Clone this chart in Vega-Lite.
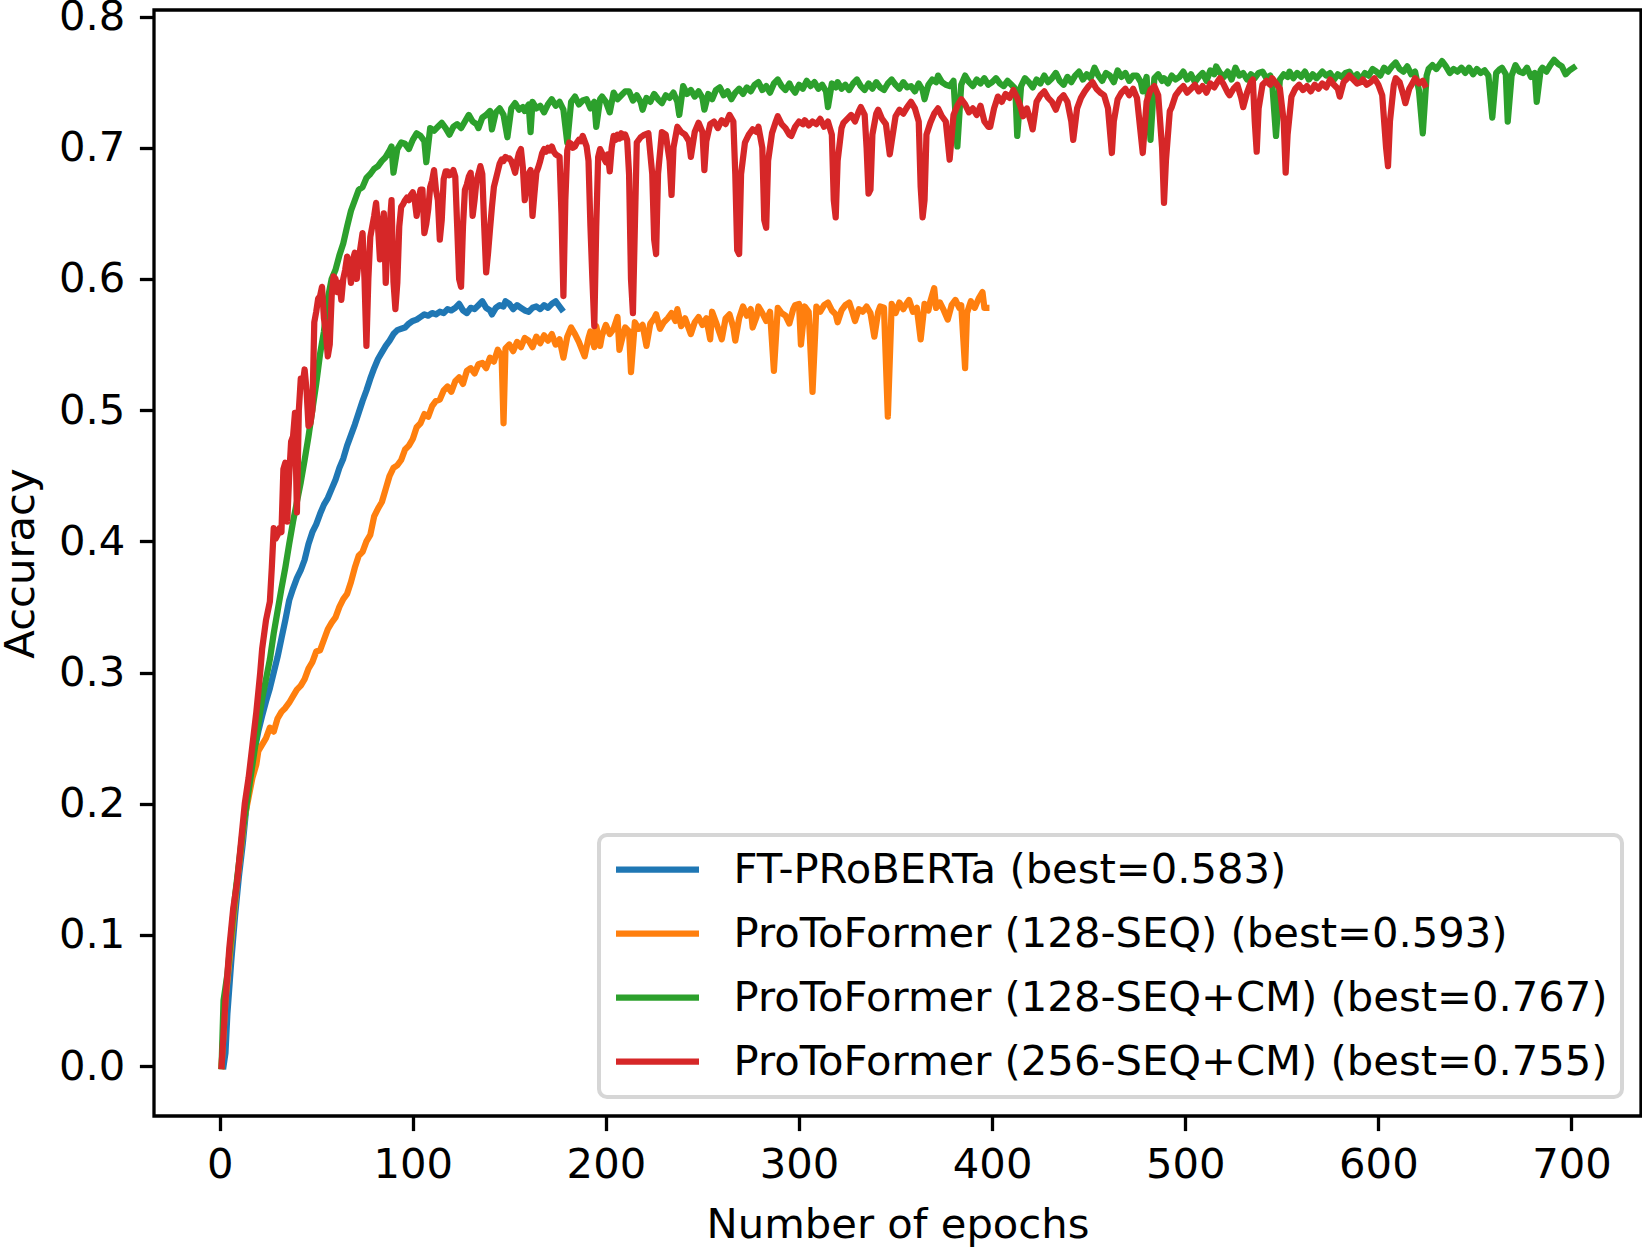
{
  "$schema": "https://vega.github.io/schema/vega-lite/v6.json",
  "width": 1487,
  "height": 1106,
  "autosize": {"type": "none"},
  "padding": {"left": 154, "top": 10, "right": 1, "bottom": 132},
  "background": "white",
  "config": {
    "font": "DejaVu Sans",
    "view": {"stroke": "black", "strokeWidth": 3.3}
  },
  "data": {
    "values": [
      {"s":"b","e":2,"a":0.0},{"s":"b","e":3,"a":0.01},{"s":"b","e":4,"a":0.04},{"s":"b","e":6,"a":0.08},{"s":"b","e":8,"a":0.115},{"s":"b","e":10,"a":0.145},{"s":"b","e":12,"a":0.17},{"s":"b","e":14,"a":0.2},{"s":"b","e":16,"a":0.22},{"s":"b","e":18,"a":0.24},{"s":"b","e":20,"a":0.255},{"s":"b","e":22,"a":0.267},{"s":"b","e":24,"a":0.278},{"s":"b","e":26,"a":0.288},{"s":"b","e":28,"a":0.3},{"s":"b","e":30,"a":0.312},{"s":"b","e":32,"a":0.326},{"s":"b","e":34,"a":0.34},{"s":"b","e":36,"a":0.355},{"s":"b","e":38,"a":0.364},{"s":"b","e":40,"a":0.372},{"s":"b","e":42,"a":0.378},{"s":"b","e":44,"a":0.386},{"s":"b","e":46,"a":0.398},{"s":"b","e":48,"a":0.407},{"s":"b","e":50,"a":0.413},{"s":"b","e":52,"a":0.421},{"s":"b","e":54,"a":0.428},{"s":"b","e":56,"a":0.433},{"s":"b","e":58,"a":0.44},{"s":"b","e":60,"a":0.447},{"s":"b","e":62,"a":0.456},{"s":"b","e":64,"a":0.463},{"s":"b","e":66,"a":0.473},{"s":"b","e":68,"a":0.481},{"s":"b","e":70,"a":0.489},{"s":"b","e":72,"a":0.498},{"s":"b","e":74,"a":0.507},{"s":"b","e":76,"a":0.515},{"s":"b","e":78,"a":0.524},{"s":"b","e":80,"a":0.532},{"s":"b","e":82,"a":0.539},{"s":"b","e":84,"a":0.544},{"s":"b","e":86,"a":0.549},{"s":"b","e":88,"a":0.553},{"s":"b","e":90,"a":0.558},{"s":"b","e":92,"a":0.561},{"s":"b","e":94,"a":0.562},{"s":"b","e":96,"a":0.563},{"s":"b","e":98,"a":0.566},{"s":"b","e":100,"a":0.568},{"s":"b","e":102,"a":0.569},{"s":"b","e":104,"a":0.571},{"s":"b","e":106,"a":0.573},{"s":"b","e":108,"a":0.572},{"s":"b","e":110,"a":0.574},{"s":"b","e":112,"a":0.573},{"s":"b","e":114,"a":0.575},{"s":"b","e":116,"a":0.574},{"s":"b","e":118,"a":0.577},{"s":"b","e":120,"a":0.576},{"s":"b","e":122,"a":0.578},{"s":"b","e":124,"a":0.581},{"s":"b","e":126,"a":0.576},{"s":"b","e":128,"a":0.574},{"s":"b","e":130,"a":0.578},{"s":"b","e":132,"a":0.577},{"s":"b","e":134,"a":0.58},{"s":"b","e":136,"a":0.583},{"s":"b","e":138,"a":0.578},{"s":"b","e":140,"a":0.576},{"s":"b","e":141,"a":0.573},{"s":"b","e":143,"a":0.578},{"s":"b","e":145,"a":0.58},{"s":"b","e":147,"a":0.579},{"s":"b","e":148,"a":0.583},{"s":"b","e":150,"a":0.581},{"s":"b","e":152,"a":0.577},{"s":"b","e":154,"a":0.58},{"s":"b","e":156,"a":0.578},{"s":"b","e":158,"a":0.576},{"s":"b","e":160,"a":0.575},{"s":"b","e":162,"a":0.578},{"s":"b","e":164,"a":0.579},{"s":"b","e":166,"a":0.577},{"s":"b","e":168,"a":0.58},{"s":"b","e":170,"a":0.578},{"s":"b","e":172,"a":0.581},{"s":"b","e":174,"a":0.583},{"s":"b","e":176,"a":0.579},{"s":"b","e":177,"a":0.577},
      {"s":"o","e":1,"a":0.0},{"s":"o","e":3,"a":0.05},{"s":"o","e":5,"a":0.08},{"s":"o","e":7,"a":0.11},{"s":"o","e":9,"a":0.14},{"s":"o","e":11,"a":0.165},{"s":"o","e":13,"a":0.19},{"s":"o","e":15,"a":0.205},{"s":"o","e":17,"a":0.22},{"s":"o","e":19,"a":0.23},{"s":"o","e":20,"a":0.24},{"s":"o","e":22,"a":0.245},{"s":"o","e":24,"a":0.25},{"s":"o","e":26,"a":0.258},{"s":"o","e":28,"a":0.255},{"s":"o","e":30,"a":0.265},{"s":"o","e":32,"a":0.27},{"s":"o","e":34,"a":0.273},{"s":"o","e":36,"a":0.277},{"s":"o","e":38,"a":0.282},{"s":"o","e":40,"a":0.287},{"s":"o","e":42,"a":0.29},{"s":"o","e":44,"a":0.295},{"s":"o","e":46,"a":0.303},{"s":"o","e":48,"a":0.308},{"s":"o","e":50,"a":0.316},{"s":"o","e":52,"a":0.317},{"s":"o","e":54,"a":0.325},{"s":"o","e":56,"a":0.333},{"s":"o","e":58,"a":0.338},{"s":"o","e":60,"a":0.342},{"s":"o","e":62,"a":0.35},{"s":"o","e":64,"a":0.356},{"s":"o","e":66,"a":0.36},{"s":"o","e":68,"a":0.369},{"s":"o","e":70,"a":0.38},{"s":"o","e":72,"a":0.389},{"s":"o","e":74,"a":0.392},{"s":"o","e":76,"a":0.4},{"s":"o","e":78,"a":0.405},{"s":"o","e":80,"a":0.419},{"s":"o","e":82,"a":0.425},{"s":"o","e":84,"a":0.43},{"s":"o","e":86,"a":0.44},{"s":"o","e":88,"a":0.45},{"s":"o","e":90,"a":0.456},{"s":"o","e":92,"a":0.458},{"s":"o","e":94,"a":0.462},{"s":"o","e":96,"a":0.47},{"s":"o","e":98,"a":0.473},{"s":"o","e":100,"a":0.478},{"s":"o","e":102,"a":0.487},{"s":"o","e":104,"a":0.49},{"s":"o","e":106,"a":0.497},{"s":"o","e":108,"a":0.495},{"s":"o","e":110,"a":0.503},{"s":"o","e":112,"a":0.507},{"s":"o","e":114,"a":0.508},{"s":"o","e":116,"a":0.515},{"s":"o","e":118,"a":0.518},{"s":"o","e":120,"a":0.514},{"s":"o","e":122,"a":0.522},{"s":"o","e":124,"a":0.525},{"s":"o","e":126,"a":0.52},{"s":"o","e":128,"a":0.53},{"s":"o","e":130,"a":0.532},{"s":"o","e":132,"a":0.528},{"s":"o","e":134,"a":0.535},{"s":"o","e":136,"a":0.536},{"s":"o","e":138,"a":0.532},{"s":"o","e":140,"a":0.54},{"s":"o","e":142,"a":0.537},{"s":"o","e":144,"a":0.546},{"s":"o","e":146,"a":0.541},{"s":"o","e":147,"a":0.49},{"s":"o","e":148,"a":0.547},{"s":"o","e":150,"a":0.55},{"s":"o","e":152,"a":0.545},{"s":"o","e":154,"a":0.552},{"s":"o","e":156,"a":0.548},{"s":"o","e":158,"a":0.555},{"s":"o","e":160,"a":0.553},{"s":"o","e":162,"a":0.548},{"s":"o","e":164,"a":0.556},{"s":"o","e":166,"a":0.551},{"s":"o","e":168,"a":0.557},{"s":"o","e":170,"a":0.553},{"s":"o","e":172,"a":0.558},{"s":"o","e":174,"a":0.55},{"s":"o","e":176,"a":0.554},{"s":"o","e":178,"a":0.54},{"s":"o","e":180,"a":0.556},{"s":"o","e":182,"a":0.563},{"s":"o","e":184,"a":0.558},{"s":"o","e":186,"a":0.552},{"s":"o","e":189,"a":0.541},{"s":"o","e":191,"a":0.555},{"s":"o","e":192,"a":0.56},{"s":"o","e":194,"a":0.548},{"s":"o","e":195,"a":0.564},{"s":"o","e":197,"a":0.549},{"s":"o","e":198,"a":0.557},{"s":"o","e":200,"a":0.565},{"s":"o","e":202,"a":0.558},{"s":"o","e":204,"a":0.562},{"s":"o","e":206,"a":0.571},{"s":"o","e":207,"a":0.546},{"s":"o","e":209,"a":0.558},{"s":"o","e":210,"a":0.563},{"s":"o","e":212,"a":0.56},{"s":"o","e":213,"a":0.529},{"s":"o","e":215,"a":0.567},{"s":"o","e":217,"a":0.562},{"s":"o","e":219,"a":0.565},{"s":"o","e":221,"a":0.549},{"s":"o","e":223,"a":0.566},{"s":"o","e":225,"a":0.57},{"s":"o","e":226,"a":0.573},{"s":"o","e":228,"a":0.562},{"s":"o","e":230,"a":0.567},{"s":"o","e":232,"a":0.57},{"s":"o","e":234,"a":0.574},{"s":"o","e":236,"a":0.568},{"s":"o","e":237,"a":0.577},{"s":"o","e":239,"a":0.564},{"s":"o","e":241,"a":0.57},{"s":"o","e":244,"a":0.558},{"s":"o","e":246,"a":0.567},{"s":"o","e":248,"a":0.571},{"s":"o","e":250,"a":0.565},{"s":"o","e":252,"a":0.57},{"s":"o","e":254,"a":0.554},{"s":"o","e":255,"a":0.575},{"s":"o","e":257,"a":0.567},{"s":"o","e":260,"a":0.554},{"s":"o","e":262,"a":0.57},{"s":"o","e":264,"a":0.573},{"s":"o","e":266,"a":0.563},{"s":"o","e":267,"a":0.553},{"s":"o","e":269,"a":0.57},{"s":"o","e":271,"a":0.579},{"s":"o","e":273,"a":0.572},{"s":"o","e":275,"a":0.577},{"s":"o","e":276,"a":0.563},{"s":"o","e":278,"a":0.571},{"s":"o","e":279,"a":0.579},{"s":"o","e":281,"a":0.574},{"s":"o","e":283,"a":0.568},{"s":"o","e":285,"a":0.575},{"s":"o","e":287,"a":0.53},{"s":"o","e":289,"a":0.578},{"s":"o","e":291,"a":0.574},{"s":"o","e":293,"a":0.572},{"s":"o","e":295,"a":0.566},{"s":"o","e":297,"a":0.577},{"s":"o","e":298,"a":0.58},{"s":"o","e":300,"a":0.581},{"s":"o","e":301,"a":0.55},{"s":"o","e":303,"a":0.579},{"s":"o","e":305,"a":0.575},{"s":"o","e":307,"a":0.514},{"s":"o","e":309,"a":0.579},{"s":"o","e":311,"a":0.575},{"s":"o","e":313,"a":0.58},{"s":"o","e":315,"a":0.582},{"s":"o","e":317,"a":0.576},{"s":"o","e":319,"a":0.573},{"s":"o","e":320,"a":0.567},{"s":"o","e":322,"a":0.576},{"s":"o","e":324,"a":0.58},{"s":"o","e":326,"a":0.582},{"s":"o","e":328,"a":0.573},{"s":"o","e":329,"a":0.568},{"s":"o","e":331,"a":0.577},{"s":"o","e":333,"a":0.575},{"s":"o","e":335,"a":0.579},{"s":"o","e":337,"a":0.574},{"s":"o","e":339,"a":0.556},{"s":"o","e":341,"a":0.575},{"s":"o","e":342,"a":0.579},{"s":"o","e":344,"a":0.578},{"s":"o","e":346,"a":0.495},{"s":"o","e":348,"a":0.581},{"s":"o","e":350,"a":0.574},{"s":"o","e":352,"a":0.582},{"s":"o","e":354,"a":0.577},{"s":"o","e":356,"a":0.582},{"s":"o","e":357,"a":0.584},{"s":"o","e":359,"a":0.575},{"s":"o","e":361,"a":0.578},{"s":"o","e":363,"a":0.554},{"s":"o","e":365,"a":0.581},{"s":"o","e":367,"a":0.576},{"s":"o","e":368,"a":0.583},{"s":"o","e":370,"a":0.593},{"s":"o","e":371,"a":0.578},{"s":"o","e":373,"a":0.582},{"s":"o","e":375,"a":0.576},{"s":"o","e":377,"a":0.569},{"s":"o","e":379,"a":0.58},{"s":"o","e":381,"a":0.584},{"s":"o","e":383,"a":0.578},{"s":"o","e":384,"a":0.58},{"s":"o","e":386,"a":0.532},{"s":"o","e":387,"a":0.574},{"s":"o","e":389,"a":0.583},{"s":"o","e":391,"a":0.578},{"s":"o","e":393,"a":0.585},{"s":"o","e":395,"a":0.59},{"s":"o","e":396,"a":0.578},{"s":"o","e":397,"a":0.578},
      {"s":"g","e":1,"a":0.0},{"s":"g","e":2,"a":0.05},{"s":"g","e":3,"a":0.06},{"s":"g","e":4,"a":0.07},{"s":"g","e":6,"a":0.1},{"s":"g","e":8,"a":0.13},{"s":"g","e":10,"a":0.155},{"s":"g","e":12,"a":0.18},{"s":"g","e":14,"a":0.2},{"s":"g","e":16,"a":0.22},{"s":"g","e":18,"a":0.24},{"s":"g","e":20,"a":0.26},{"s":"g","e":22,"a":0.28},{"s":"g","e":24,"a":0.295},{"s":"g","e":26,"a":0.31},{"s":"g","e":28,"a":0.33},{"s":"g","e":30,"a":0.347},{"s":"g","e":32,"a":0.364},{"s":"g","e":34,"a":0.38},{"s":"g","e":36,"a":0.398},{"s":"g","e":38,"a":0.415},{"s":"g","e":40,"a":0.43},{"s":"g","e":42,"a":0.445},{"s":"g","e":44,"a":0.462},{"s":"g","e":46,"a":0.48},{"s":"g","e":48,"a":0.5},{"s":"g","e":50,"a":0.52},{"s":"g","e":52,"a":0.543},{"s":"g","e":54,"a":0.56},{"s":"g","e":56,"a":0.585},{"s":"g","e":58,"a":0.6},{"s":"g","e":60,"a":0.607},{"s":"g","e":62,"a":0.618},{"s":"g","e":64,"a":0.627},{"s":"g","e":66,"a":0.64},{"s":"g","e":68,"a":0.652},{"s":"g","e":70,"a":0.66},{"s":"g","e":72,"a":0.668},{"s":"g","e":74,"a":0.67},{"s":"g","e":76,"a":0.677},{"s":"g","e":78,"a":0.68},{"s":"g","e":80,"a":0.684},{"s":"g","e":82,"a":0.686},{"s":"g","e":84,"a":0.69},{"s":"g","e":86,"a":0.693},{"s":"g","e":88,"a":0.698},{"s":"g","e":89,"a":0.701},{"s":"g","e":90,"a":0.681},{"s":"g","e":92,"a":0.699},{"s":"g","e":94,"a":0.704},{"s":"g","e":96,"a":0.703},{"s":"g","e":98,"a":0.699},{"s":"g","e":100,"a":0.706},{"s":"g","e":102,"a":0.711},{"s":"g","e":104,"a":0.709},{"s":"g","e":106,"a":0.705},{"s":"g","e":107,"a":0.689},{"s":"g","e":109,"a":0.715},{"s":"g","e":111,"a":0.713},{"s":"g","e":113,"a":0.716},{"s":"g","e":115,"a":0.719},{"s":"g","e":117,"a":0.715},{"s":"g","e":119,"a":0.71},{"s":"g","e":121,"a":0.716},{"s":"g","e":123,"a":0.718},{"s":"g","e":125,"a":0.715},{"s":"g","e":127,"a":0.72},{"s":"g","e":129,"a":0.725},{"s":"g","e":131,"a":0.72},{"s":"g","e":133,"a":0.718},{"s":"g","e":134,"a":0.715},{"s":"g","e":136,"a":0.723},{"s":"g","e":138,"a":0.725},{"s":"g","e":140,"a":0.728},{"s":"g","e":141,"a":0.714},{"s":"g","e":143,"a":0.727},{"s":"g","e":145,"a":0.73},{"s":"g","e":147,"a":0.725},{"s":"g","e":149,"a":0.708},{"s":"g","e":151,"a":0.73},{"s":"g","e":153,"a":0.734},{"s":"g","e":155,"a":0.729},{"s":"g","e":157,"a":0.731},{"s":"g","e":158,"a":0.728},{"s":"g","e":160,"a":0.733},{"s":"g","e":161,"a":0.712},{"s":"g","e":162,"a":0.735},{"s":"g","e":164,"a":0.73},{"s":"g","e":166,"a":0.732},{"s":"g","e":168,"a":0.727},{"s":"g","e":170,"a":0.733},{"s":"g","e":172,"a":0.737},{"s":"g","e":174,"a":0.732},{"s":"g","e":176,"a":0.735},{"s":"g","e":178,"a":0.729},{"s":"g","e":180,"a":0.704},{"s":"g","e":182,"a":0.735},{"s":"g","e":184,"a":0.739},{"s":"g","e":186,"a":0.733},{"s":"g","e":188,"a":0.736},{"s":"g","e":190,"a":0.737},{"s":"g","e":192,"a":0.73},{"s":"g","e":194,"a":0.735},{"s":"g","e":195,"a":0.716},{"s":"g","e":197,"a":0.737},{"s":"g","e":198,"a":0.739},{"s":"g","e":200,"a":0.735},{"s":"g","e":202,"a":0.727},{"s":"g","e":204,"a":0.742},{"s":"g","e":206,"a":0.737},{"s":"g","e":208,"a":0.74},{"s":"g","e":210,"a":0.743},{"s":"g","e":212,"a":0.743},{"s":"g","e":214,"a":0.736},{"s":"g","e":216,"a":0.74},{"s":"g","e":218,"a":0.735},{"s":"g","e":219,"a":0.729},{"s":"g","e":221,"a":0.738},{"s":"g","e":223,"a":0.735},{"s":"g","e":225,"a":0.741},{"s":"g","e":227,"a":0.737},{"s":"g","e":229,"a":0.734},{"s":"g","e":231,"a":0.74},{"s":"g","e":233,"a":0.738},{"s":"g","e":235,"a":0.742},{"s":"g","e":237,"a":0.735},{"s":"g","e":238,"a":0.725},{"s":"g","e":240,"a":0.747},{"s":"g","e":242,"a":0.741},{"s":"g","e":244,"a":0.744},{"s":"g","e":246,"a":0.739},{"s":"g","e":248,"a":0.743},{"s":"g","e":250,"a":0.738},{"s":"g","e":251,"a":0.729},{"s":"g","e":253,"a":0.741},{"s":"g","e":255,"a":0.737},{"s":"g","e":257,"a":0.744},{"s":"g","e":259,"a":0.746},{"s":"g","e":261,"a":0.74},{"s":"g","e":263,"a":0.743},{"s":"g","e":265,"a":0.737},{"s":"g","e":267,"a":0.742},{"s":"g","e":269,"a":0.745},{"s":"g","e":271,"a":0.741},{"s":"g","e":273,"a":0.746},{"s":"g","e":275,"a":0.743},{"s":"g","e":277,"a":0.748},{"s":"g","e":279,"a":0.75},{"s":"g","e":281,"a":0.744},{"s":"g","e":283,"a":0.747},{"s":"g","e":285,"a":0.742},{"s":"g","e":287,"a":0.749},{"s":"g","e":289,"a":0.752},{"s":"g","e":291,"a":0.747},{"s":"g","e":293,"a":0.744},{"s":"g","e":295,"a":0.749},{"s":"g","e":296,"a":0.746},{"s":"g","e":298,"a":0.742},{"s":"g","e":300,"a":0.748},{"s":"g","e":302,"a":0.745},{"s":"g","e":304,"a":0.751},{"s":"g","e":306,"a":0.747},{"s":"g","e":308,"a":0.75},{"s":"g","e":310,"a":0.745},{"s":"g","e":312,"a":0.748},{"s":"g","e":314,"a":0.743},{"s":"g","e":315,"a":0.731},{"s":"g","e":317,"a":0.749},{"s":"g","e":319,"a":0.746},{"s":"g","e":320,"a":0.75},{"s":"g","e":322,"a":0.745},{"s":"g","e":324,"a":0.748},{"s":"g","e":326,"a":0.744},{"s":"g","e":328,"a":0.749},{"s":"g","e":330,"a":0.752},{"s":"g","e":332,"a":0.747},{"s":"g","e":334,"a":0.744},{"s":"g","e":336,"a":0.749},{"s":"g","e":338,"a":0.745},{"s":"g","e":340,"a":0.75},{"s":"g","e":342,"a":0.746},{"s":"g","e":344,"a":0.744},{"s":"g","e":346,"a":0.749},{"s":"g","e":348,"a":0.752},{"s":"g","e":350,"a":0.748},{"s":"g","e":352,"a":0.745},{"s":"g","e":354,"a":0.75},{"s":"g","e":356,"a":0.746},{"s":"g","e":358,"a":0.747},{"s":"g","e":360,"a":0.743},{"s":"g","e":362,"a":0.749},{"s":"g","e":364,"a":0.744},{"s":"g","e":365,"a":0.737},{"s":"g","e":367,"a":0.748},{"s":"g","e":369,"a":0.752},{"s":"g","e":371,"a":0.75},{"s":"g","e":372,"a":0.755},{"s":"g","e":374,"a":0.75},{"s":"g","e":376,"a":0.748},{"s":"g","e":378,"a":0.747},{"s":"g","e":380,"a":0.751},{"s":"g","e":382,"a":0.701},{"s":"g","e":384,"a":0.748},{"s":"g","e":386,"a":0.755},{"s":"g","e":388,"a":0.75},{"s":"g","e":390,"a":0.747},{"s":"g","e":392,"a":0.752},{"s":"g","e":394,"a":0.749},{"s":"g","e":396,"a":0.753},{"s":"g","e":398,"a":0.748},{"s":"g","e":400,"a":0.75},{"s":"g","e":402,"a":0.753},{"s":"g","e":404,"a":0.749},{"s":"g","e":406,"a":0.747},{"s":"g","e":408,"a":0.751},{"s":"g","e":410,"a":0.748},{"s":"g","e":412,"a":0.745},{"s":"g","e":413,"a":0.709},{"s":"g","e":415,"a":0.747},{"s":"g","e":417,"a":0.753},{"s":"g","e":419,"a":0.75},{"s":"g","e":421,"a":0.746},{"s":"g","e":423,"a":0.752},{"s":"g","e":425,"a":0.749},{"s":"g","e":427,"a":0.755},{"s":"g","e":429,"a":0.75},{"s":"g","e":431,"a":0.753},{"s":"g","e":433,"a":0.757},{"s":"g","e":435,"a":0.751},{"s":"g","e":437,"a":0.748},{"s":"g","e":439,"a":0.754},{"s":"g","e":441,"a":0.75},{"s":"g","e":443,"a":0.755},{"s":"g","e":445,"a":0.758},{"s":"g","e":447,"a":0.752},{"s":"g","e":449,"a":0.756},{"s":"g","e":451,"a":0.753},{"s":"g","e":453,"a":0.761},{"s":"g","e":455,"a":0.755},{"s":"g","e":457,"a":0.751},{"s":"g","e":459,"a":0.757},{"s":"g","e":461,"a":0.755},{"s":"g","e":463,"a":0.75},{"s":"g","e":465,"a":0.759},{"s":"g","e":467,"a":0.754},{"s":"g","e":469,"a":0.757},{"s":"g","e":471,"a":0.751},{"s":"g","e":473,"a":0.755},{"s":"g","e":475,"a":0.755},{"s":"g","e":477,"a":0.75},{"s":"g","e":478,"a":0.743},{"s":"g","e":480,"a":0.754},{"s":"g","e":482,"a":0.706},{"s":"g","e":484,"a":0.753},{"s":"g","e":486,"a":0.756},{"s":"g","e":488,"a":0.751},{"s":"g","e":489,"a":0.753},{"s":"g","e":491,"a":0.749},{"s":"g","e":493,"a":0.755},{"s":"g","e":495,"a":0.752},{"s":"g","e":497,"a":0.754},{"s":"g","e":499,"a":0.758},{"s":"g","e":501,"a":0.752},{"s":"g","e":503,"a":0.756},{"s":"g","e":505,"a":0.75},{"s":"g","e":507,"a":0.754},{"s":"g","e":509,"a":0.757},{"s":"g","e":511,"a":0.751},{"s":"g","e":513,"a":0.759},{"s":"g","e":515,"a":0.756},{"s":"g","e":516,"a":0.762},{"s":"g","e":518,"a":0.757},{"s":"g","e":520,"a":0.754},{"s":"g","e":522,"a":0.758},{"s":"g","e":524,"a":0.752},{"s":"g","e":526,"a":0.761},{"s":"g","e":528,"a":0.755},{"s":"g","e":530,"a":0.757},{"s":"g","e":532,"a":0.752},{"s":"g","e":534,"a":0.756},{"s":"g","e":536,"a":0.753},{"s":"g","e":538,"a":0.757},{"s":"g","e":540,"a":0.758},{"s":"g","e":542,"a":0.753},{"s":"g","e":544,"a":0.755},{"s":"g","e":545,"a":0.75},{"s":"g","e":547,"a":0.709},{"s":"g","e":549,"a":0.752},{"s":"g","e":551,"a":0.756},{"s":"g","e":553,"a":0.754},{"s":"g","e":554,"a":0.758},{"s":"g","e":556,"a":0.753},{"s":"g","e":558,"a":0.757},{"s":"g","e":560,"a":0.754},{"s":"g","e":562,"a":0.758},{"s":"g","e":564,"a":0.752},{"s":"g","e":566,"a":0.756},{"s":"g","e":568,"a":0.753},{"s":"g","e":571,"a":0.758},{"s":"g","e":573,"a":0.755},{"s":"g","e":575,"a":0.757},{"s":"g","e":577,"a":0.752},{"s":"g","e":579,"a":0.756},{"s":"g","e":581,"a":0.754},{"s":"g","e":583,"a":0.757},{"s":"g","e":585,"a":0.758},{"s":"g","e":587,"a":0.753},{"s":"g","e":589,"a":0.756},{"s":"g","e":591,"a":0.752},{"s":"g","e":593,"a":0.757},{"s":"g","e":595,"a":0.755},{"s":"g","e":597,"a":0.76},{"s":"g","e":599,"a":0.758},{"s":"g","e":601,"a":0.755},{"s":"g","e":603,"a":0.761},{"s":"g","e":605,"a":0.758},{"s":"g","e":607,"a":0.762},{"s":"g","e":609,"a":0.765},{"s":"g","e":611,"a":0.76},{"s":"g","e":613,"a":0.758},{"s":"g","e":615,"a":0.762},{"s":"g","e":617,"a":0.756},{"s":"g","e":619,"a":0.758},{"s":"g","e":621,"a":0.744},{"s":"g","e":623,"a":0.711},{"s":"g","e":625,"a":0.755},{"s":"g","e":626,"a":0.76},{"s":"g","e":628,"a":0.763},{"s":"g","e":630,"a":0.76},{"s":"g","e":633,"a":0.766},{"s":"g","e":635,"a":0.762},{"s":"g","e":637,"a":0.757},{"s":"g","e":639,"a":0.76},{"s":"g","e":641,"a":0.758},{"s":"g","e":643,"a":0.761},{"s":"g","e":645,"a":0.757},{"s":"g","e":647,"a":0.761},{"s":"g","e":649,"a":0.756},{"s":"g","e":651,"a":0.76},{"s":"g","e":653,"a":0.757},{"s":"g","e":655,"a":0.759},{"s":"g","e":657,"a":0.755},{"s":"g","e":659,"a":0.723},{"s":"g","e":661,"a":0.757},{"s":"g","e":663,"a":0.76},{"s":"g","e":664,"a":0.761},{"s":"g","e":666,"a":0.756},{"s":"g","e":667,"a":0.72},{"s":"g","e":669,"a":0.755},{"s":"g","e":671,"a":0.763},{"s":"g","e":673,"a":0.758},{"s":"g","e":675,"a":0.757},{"s":"g","e":677,"a":0.761},{"s":"g","e":679,"a":0.754},{"s":"g","e":681,"a":0.757},{"s":"g","e":682,"a":0.735},{"s":"g","e":684,"a":0.759},{"s":"g","e":685,"a":0.761},{"s":"g","e":687,"a":0.758},{"s":"g","e":689,"a":0.763},{"s":"g","e":691,"a":0.767},{"s":"g","e":693,"a":0.764},{"s":"g","e":695,"a":0.762},{"s":"g","e":697,"a":0.756},{"s":"g","e":699,"a":0.759},{"s":"g","e":701,"a":0.761},
      {"s":"r","e":1,"a":0.0},{"s":"r","e":3,"a":0.05},{"s":"r","e":5,"a":0.09},{"s":"r","e":7,"a":0.12},{"s":"r","e":9,"a":0.14},{"s":"r","e":11,"a":0.17},{"s":"r","e":13,"a":0.2},{"s":"r","e":15,"a":0.22},{"s":"r","e":17,"a":0.245},{"s":"r","e":19,"a":0.27},{"s":"r","e":21,"a":0.3},{"s":"r","e":22,"a":0.318},{"s":"r","e":24,"a":0.34},{"s":"r","e":26,"a":0.354},{"s":"r","e":27,"a":0.38},{"s":"r","e":28,"a":0.41},{"s":"r","e":29,"a":0.402},{"s":"r","e":30,"a":0.405},{"s":"r","e":31,"a":0.41},{"s":"r","e":32,"a":0.407},{"s":"r","e":33,"a":0.455},{"s":"r","e":34,"a":0.46},{"s":"r","e":35,"a":0.415},{"s":"r","e":36,"a":0.45},{"s":"r","e":37,"a":0.476},{"s":"r","e":38,"a":0.48},{"s":"r","e":39,"a":0.498},{"s":"r","e":40,"a":0.422},{"s":"r","e":41,"a":0.5},{"s":"r","e":42,"a":0.524},{"s":"r","e":43,"a":0.52},{"s":"r","e":44,"a":0.531},{"s":"r","e":45,"a":0.515},{"s":"r","e":46,"a":0.488},{"s":"r","e":47,"a":0.49},{"s":"r","e":48,"a":0.5},{"s":"r","e":49,"a":0.567},{"s":"r","e":50,"a":0.575},{"s":"r","e":51,"a":0.585},{"s":"r","e":52,"a":0.587},{"s":"r","e":53,"a":0.594},{"s":"r","e":54,"a":0.57},{"s":"r","e":55,"a":0.559},{"s":"r","e":56,"a":0.541},{"s":"r","e":57,"a":0.55},{"s":"r","e":58,"a":0.587},{"s":"r","e":59,"a":0.602},{"s":"r","e":60,"a":0.6},{"s":"r","e":61,"a":0.59},{"s":"r","e":62,"a":0.597},{"s":"r","e":63,"a":0.584},{"s":"r","e":64,"a":0.6},{"s":"r","e":65,"a":0.607},{"s":"r","e":66,"a":0.617},{"s":"r","e":67,"a":0.61},{"s":"r","e":68,"a":0.597},{"s":"r","e":69,"a":0.615},{"s":"r","e":70,"a":0.62},{"s":"r","e":71,"a":0.6},{"s":"r","e":72,"a":0.615},{"s":"r","e":73,"a":0.625},{"s":"r","e":74,"a":0.635},{"s":"r","e":75,"a":0.6},{"s":"r","e":76,"a":0.549},{"s":"r","e":77,"a":0.6},{"s":"r","e":78,"a":0.632},{"s":"r","e":79,"a":0.64},{"s":"r","e":80,"a":0.648},{"s":"r","e":81,"a":0.658},{"s":"r","e":82,"a":0.64},{"s":"r","e":83,"a":0.615},{"s":"r","e":84,"a":0.636},{"s":"r","e":85,"a":0.65},{"s":"r","e":86,"a":0.597},{"s":"r","e":87,"a":0.63},{"s":"r","e":88,"a":0.64},{"s":"r","e":89,"a":0.66},{"s":"r","e":90,"a":0.598},{"s":"r","e":91,"a":0.577},{"s":"r","e":92,"a":0.597},{"s":"r","e":93,"a":0.64},{"s":"r","e":94,"a":0.655},{"s":"r","e":95,"a":0.657},{"s":"r","e":96,"a":0.66},{"s":"r","e":97,"a":0.662},{"s":"r","e":98,"a":0.66},{"s":"r","e":99,"a":0.664},{"s":"r","e":100,"a":0.666},{"s":"r","e":101,"a":0.66},{"s":"r","e":102,"a":0.648},{"s":"r","e":103,"a":0.66},{"s":"r","e":104,"a":0.668},{"s":"r","e":105,"a":0.668},{"s":"r","e":106,"a":0.635},{"s":"r","e":107,"a":0.642},{"s":"r","e":108,"a":0.653},{"s":"r","e":109,"a":0.67},{"s":"r","e":110,"a":0.675},{"s":"r","e":111,"a":0.683},{"s":"r","e":112,"a":0.668},{"s":"r","e":113,"a":0.66},{"s":"r","e":114,"a":0.63},{"s":"r","e":115,"a":0.645},{"s":"r","e":116,"a":0.676},{"s":"r","e":117,"a":0.682},{"s":"r","e":118,"a":0.682},{"s":"r","e":119,"a":0.679},{"s":"r","e":120,"a":0.68},{"s":"r","e":121,"a":0.683},{"s":"r","e":122,"a":0.678},{"s":"r","e":123,"a":0.64},{"s":"r","e":124,"a":0.6},{"s":"r","e":125,"a":0.594},{"s":"r","e":126,"a":0.64},{"s":"r","e":127,"a":0.668},{"s":"r","e":128,"a":0.672},{"s":"r","e":129,"a":0.678},{"s":"r","e":130,"a":0.681},{"s":"r","e":131,"a":0.648},{"s":"r","e":132,"a":0.66},{"s":"r","e":133,"a":0.675},{"s":"r","e":134,"a":0.68},{"s":"r","e":135,"a":0.686},{"s":"r","e":136,"a":0.68},{"s":"r","e":137,"a":0.64},{"s":"r","e":138,"a":0.605},{"s":"r","e":139,"a":0.62},{"s":"r","e":140,"a":0.638},{"s":"r","e":141,"a":0.655},{"s":"r","e":142,"a":0.67},{"s":"r","e":143,"a":0.676},{"s":"r","e":144,"a":0.682},{"s":"r","e":145,"a":0.688},{"s":"r","e":146,"a":0.691},{"s":"r","e":147,"a":0.69},{"s":"r","e":148,"a":0.693},{"s":"r","e":149,"a":0.692},{"s":"r","e":150,"a":0.692},{"s":"r","e":151,"a":0.69},{"s":"r","e":152,"a":0.686},{"s":"r","e":153,"a":0.681},{"s":"r","e":154,"a":0.69},{"s":"r","e":155,"a":0.696},{"s":"r","e":156,"a":0.699},{"s":"r","e":157,"a":0.685},{"s":"r","e":158,"a":0.66},{"s":"r","e":159,"a":0.672},{"s":"r","e":160,"a":0.68},{"s":"r","e":161,"a":0.683},{"s":"r","e":162,"a":0.648},{"s":"r","e":163,"a":0.665},{"s":"r","e":164,"a":0.681},{"s":"r","e":165,"a":0.685},{"s":"r","e":166,"a":0.69},{"s":"r","e":167,"a":0.696},{"s":"r","e":168,"a":0.699},{"s":"r","e":169,"a":0.697},{"s":"r","e":170,"a":0.7},{"s":"r","e":171,"a":0.698},{"s":"r","e":172,"a":0.701},{"s":"r","e":173,"a":0.697},{"s":"r","e":174,"a":0.695},{"s":"r","e":175,"a":0.694},{"s":"r","e":176,"a":0.693},{"s":"r","e":177,"a":0.65},{"s":"r","e":178,"a":0.587},{"s":"r","e":179,"a":0.66},{"s":"r","e":180,"a":0.698},{"s":"r","e":181,"a":0.704},{"s":"r","e":182,"a":0.703},{"s":"r","e":183,"a":0.7},{"s":"r","e":184,"a":0.701},{"s":"r","e":185,"a":0.704},{"s":"r","e":186,"a":0.706},{"s":"r","e":187,"a":0.705},{"s":"r","e":188,"a":0.709},{"s":"r","e":189,"a":0.705},{"s":"r","e":190,"a":0.701},{"s":"r","e":191,"a":0.69},{"s":"r","e":192,"a":0.64},{"s":"r","e":193,"a":0.6},{"s":"r","e":194,"a":0.564},{"s":"r","e":195,"a":0.64},{"s":"r","e":196,"a":0.693},{"s":"r","e":197,"a":0.699},{"s":"r","e":198,"a":0.696},{"s":"r","e":199,"a":0.692},{"s":"r","e":200,"a":0.689},{"s":"r","e":201,"a":0.695},{"s":"r","e":202,"a":0.682},{"s":"r","e":203,"a":0.7},{"s":"r","e":204,"a":0.709},{"s":"r","e":205,"a":0.706},{"s":"r","e":206,"a":0.71},{"s":"r","e":207,"a":0.707},{"s":"r","e":208,"a":0.711},{"s":"r","e":209,"a":0.708},{"s":"r","e":210,"a":0.71},{"s":"r","e":211,"a":0.706},{"s":"r","e":212,"a":0.68},{"s":"r","e":213,"a":0.6},{"s":"r","e":214,"a":0.574},{"s":"r","e":215,"a":0.64},{"s":"r","e":216,"a":0.704},{"s":"r","e":218,"a":0.708},{"s":"r","e":220,"a":0.71},{"s":"r","e":222,"a":0.711},{"s":"r","e":224,"a":0.68},{"s":"r","e":225,"a":0.63},{"s":"r","e":226,"a":0.619},{"s":"r","e":227,"a":0.68},{"s":"r","e":229,"a":0.712},{"s":"r","e":231,"a":0.71},{"s":"r","e":233,"a":0.69},{"s":"r","e":234,"a":0.664},{"s":"r","e":235,"a":0.7},{"s":"r","e":237,"a":0.716},{"s":"r","e":239,"a":0.712},{"s":"r","e":241,"a":0.71},{"s":"r","e":243,"a":0.705},{"s":"r","e":244,"a":0.693},{"s":"r","e":246,"a":0.712},{"s":"r","e":248,"a":0.719},{"s":"r","e":250,"a":0.712},{"s":"r","e":251,"a":0.683},{"s":"r","e":252,"a":0.705},{"s":"r","e":254,"a":0.718},{"s":"r","e":256,"a":0.72},{"s":"r","e":258,"a":0.715},{"s":"r","e":260,"a":0.721},{"s":"r","e":262,"a":0.718},{"s":"r","e":264,"a":0.725},{"s":"r","e":266,"a":0.72},{"s":"r","e":267,"a":0.68},{"s":"r","e":268,"a":0.622},{"s":"r","e":269,"a":0.619},{"s":"r","e":270,"a":0.68},{"s":"r","e":272,"a":0.704},{"s":"r","e":274,"a":0.71},{"s":"r","e":276,"a":0.714},{"s":"r","e":278,"a":0.712},{"s":"r","e":279,"a":0.716},{"s":"r","e":281,"a":0.7},{"s":"r","e":282,"a":0.645},{"s":"r","e":283,"a":0.639},{"s":"r","e":284,"a":0.69},{"s":"r","e":286,"a":0.711},{"s":"r","e":288,"a":0.72},{"s":"r","e":289,"a":0.724},{"s":"r","e":291,"a":0.718},{"s":"r","e":293,"a":0.715},{"s":"r","e":295,"a":0.71},{"s":"r","e":296,"a":0.709},{"s":"r","e":298,"a":0.716},{"s":"r","e":300,"a":0.72},{"s":"r","e":302,"a":0.718},{"s":"r","e":303,"a":0.721},{"s":"r","e":305,"a":0.717},{"s":"r","e":307,"a":0.72},{"s":"r","e":309,"a":0.718},{"s":"r","e":311,"a":0.722},{"s":"r","e":313,"a":0.716},{"s":"r","e":315,"a":0.72},{"s":"r","e":317,"a":0.71},{"s":"r","e":318,"a":0.66},{"s":"r","e":319,"a":0.647},{"s":"r","e":320,"a":0.69},{"s":"r","e":322,"a":0.715},{"s":"r","e":323,"a":0.719},{"s":"r","e":325,"a":0.722},{"s":"r","e":327,"a":0.725},{"s":"r","e":329,"a":0.72},{"s":"r","e":331,"a":0.728},{"s":"r","e":332,"a":0.731},{"s":"r","e":334,"a":0.725},{"s":"r","e":335,"a":0.7},{"s":"r","e":336,"a":0.665},{"s":"r","e":337,"a":0.668},{"s":"r","e":338,"a":0.71},{"s":"r","e":340,"a":0.726},{"s":"r","e":341,"a":0.729},{"s":"r","e":343,"a":0.722},{"s":"r","e":345,"a":0.718},{"s":"r","e":347,"a":0.695},{"s":"r","e":348,"a":0.705},{"s":"r","e":350,"a":0.724},{"s":"r","e":352,"a":0.729},{"s":"r","e":354,"a":0.726},{"s":"r","e":356,"a":0.731},{"s":"r","e":358,"a":0.735},{"s":"r","e":360,"a":0.73},{"s":"r","e":362,"a":0.72},{"s":"r","e":363,"a":0.67},{"s":"r","e":364,"a":0.647},{"s":"r","e":365,"a":0.66},{"s":"r","e":366,"a":0.71},{"s":"r","e":368,"a":0.719},{"s":"r","e":370,"a":0.726},{"s":"r","e":372,"a":0.73},{"s":"r","e":374,"a":0.724},{"s":"r","e":376,"a":0.72},{"s":"r","e":378,"a":0.691},{"s":"r","e":380,"a":0.725},{"s":"r","e":382,"a":0.732},{"s":"r","e":384,"a":0.737},{"s":"r","e":386,"a":0.733},{"s":"r","e":388,"a":0.727},{"s":"r","e":390,"a":0.73},{"s":"r","e":392,"a":0.725},{"s":"r","e":394,"a":0.732},{"s":"r","e":396,"a":0.72},{"s":"r","e":398,"a":0.716},{"s":"r","e":399,"a":0.716},{"s":"r","e":401,"a":0.73},{"s":"r","e":403,"a":0.739},{"s":"r","e":405,"a":0.735},{"s":"r","e":407,"a":0.741},{"s":"r","e":409,"a":0.738},{"s":"r","e":411,"a":0.744},{"s":"r","e":413,"a":0.738},{"s":"r","e":415,"a":0.73},{"s":"r","e":416,"a":0.724},{"s":"r","e":418,"a":0.73},{"s":"r","e":420,"a":0.72},{"s":"r","e":421,"a":0.714},{"s":"r","e":423,"a":0.735},{"s":"r","e":425,"a":0.74},{"s":"r","e":427,"a":0.743},{"s":"r","e":429,"a":0.738},{"s":"r","e":431,"a":0.735},{"s":"r","e":433,"a":0.729},{"s":"r","e":435,"a":0.737},{"s":"r","e":437,"a":0.74},{"s":"r","e":439,"a":0.735},{"s":"r","e":441,"a":0.72},{"s":"r","e":442,"a":0.706},{"s":"r","e":444,"a":0.73},{"s":"r","e":446,"a":0.738},{"s":"r","e":448,"a":0.743},{"s":"r","e":450,"a":0.747},{"s":"r","e":452,"a":0.75},{"s":"r","e":454,"a":0.745},{"s":"r","e":456,"a":0.742},{"s":"r","e":458,"a":0.74},{"s":"r","e":460,"a":0.73},{"s":"r","e":462,"a":0.696},{"s":"r","e":463,"a":0.72},{"s":"r","e":465,"a":0.737},{"s":"r","e":467,"a":0.742},{"s":"r","e":469,"a":0.745},{"s":"r","e":471,"a":0.74},{"s":"r","e":473,"a":0.745},{"s":"r","e":475,"a":0.738},{"s":"r","e":477,"a":0.71},{"s":"r","e":478,"a":0.696},{"s":"r","e":480,"a":0.735},{"s":"r","e":482,"a":0.744},{"s":"r","e":484,"a":0.747},{"s":"r","e":486,"a":0.74},{"s":"r","e":488,"a":0.7},{"s":"r","e":489,"a":0.658},{"s":"r","e":490,"a":0.69},{"s":"r","e":492,"a":0.728},{"s":"r","e":493,"a":0.731},{"s":"r","e":495,"a":0.74},{"s":"r","e":497,"a":0.744},{"s":"r","e":499,"a":0.747},{"s":"r","e":501,"a":0.742},{"s":"r","e":503,"a":0.745},{"s":"r","e":505,"a":0.748},{"s":"r","e":507,"a":0.743},{"s":"r","e":509,"a":0.747},{"s":"r","e":511,"a":0.742},{"s":"r","e":513,"a":0.749},{"s":"r","e":515,"a":0.746},{"s":"r","e":517,"a":0.751},{"s":"r","e":518,"a":0.753},{"s":"r","e":520,"a":0.748},{"s":"r","e":522,"a":0.742},{"s":"r","e":523,"a":0.74},{"s":"r","e":525,"a":0.745},{"s":"r","e":527,"a":0.748},{"s":"r","e":529,"a":0.738},{"s":"r","e":530,"a":0.731},{"s":"r","e":532,"a":0.742},{"s":"r","e":534,"a":0.75},{"s":"r","e":535,"a":0.752},{"s":"r","e":536,"a":0.72},{"s":"r","e":537,"a":0.697},{"s":"r","e":538,"a":0.73},{"s":"r","e":540,"a":0.748},{"s":"r","e":542,"a":0.751},{"s":"r","e":544,"a":0.748},{"s":"r","e":545,"a":0.753},{"s":"r","e":547,"a":0.749},{"s":"r","e":549,"a":0.745},{"s":"r","e":551,"a":0.72},{"s":"r","e":552,"a":0.681},{"s":"r","e":553,"a":0.71},{"s":"r","e":555,"a":0.739},{"s":"r","e":557,"a":0.745},{"s":"r","e":559,"a":0.748},{"s":"r","e":561,"a":0.744},{"s":"r","e":563,"a":0.747},{"s":"r","e":565,"a":0.743},{"s":"r","e":567,"a":0.748},{"s":"r","e":569,"a":0.745},{"s":"r","e":571,"a":0.749},{"s":"r","e":573,"a":0.746},{"s":"r","e":575,"a":0.752},{"s":"r","e":577,"a":0.748},{"s":"r","e":579,"a":0.745},{"s":"r","e":580,"a":0.739},{"s":"r","e":582,"a":0.75},{"s":"r","e":584,"a":0.753},{"s":"r","e":585,"a":0.755},{"s":"r","e":587,"a":0.752},{"s":"r","e":589,"a":0.749},{"s":"r","e":591,"a":0.75},{"s":"r","e":592,"a":0.752},{"s":"r","e":594,"a":0.748},{"s":"r","e":596,"a":0.75},{"s":"r","e":598,"a":0.753},{"s":"r","e":600,"a":0.748},{"s":"r","e":602,"a":0.74},{"s":"r","e":604,"a":0.7},{"s":"r","e":605,"a":0.686},{"s":"r","e":606,"a":0.72},{"s":"r","e":608,"a":0.748},{"s":"r","e":609,"a":0.753},{"s":"r","e":611,"a":0.75},{"s":"r","e":613,"a":0.74},{"s":"r","e":614,"a":0.734},{"s":"r","e":616,"a":0.745},{"s":"r","e":618,"a":0.75},{"s":"r","e":619,"a":0.753},{"s":"r","e":621,"a":0.749},{"s":"r","e":623,"a":0.751},{"s":"r","e":624,"a":0.748}
    ]
  },
  "mark": {"type": "line", "strokeWidth": 6.25, "strokeJoin": "round", "strokeCap": "square", "clip": true},
  "encoding": {
    "x": {
      "field": "e",
      "type": "quantitative",
      "scale": {"domain": [-34, 736], "nice": false, "zero": false},
      "axis": {
        "title": "Number of epochs",
        "values": [0, 100, 200, 300, 400, 500, 600, 700],
        "format": "d",
        "grid": false,
        "domain": false,
        "tickSize": 14.6,
        "tickWidth": 3.3,
        "tickColor": "black",
        "labelFontSize": 41.7,
        "labelColor": "black",
        "labelPadding": 14,
        "labelFlush": false,
        "titleFontSize": 41.7,
        "titleFontWeight": "normal",
        "titleColor": "black",
        "titlePadding": 18
      }
    },
    "y": {
      "field": "a",
      "type": "quantitative",
      "scale": {"domain": [-0.038, 0.805], "nice": false, "zero": false},
      "axis": {
        "title": "Accuracy",
        "values": [0, 0.1, 0.2, 0.3, 0.4, 0.5, 0.6, 0.7, 0.8],
        "format": ".1f",
        "grid": false,
        "domain": false,
        "tickSize": 14.6,
        "tickWidth": 3.3,
        "tickColor": "black",
        "labelFontSize": 41.7,
        "labelColor": "black",
        "labelPadding": 14.6,
        "labelFlush": false,
        "titleFontSize": 41.7,
        "titleFontWeight": "normal",
        "titleColor": "black",
        "titlePadding": 16
      }
    },
    "color": {
      "field": "s",
      "type": "nominal",
      "scale": {"domain": ["b", "o", "g", "r"], "range": ["#1f77b4", "#ff7f0e", "#2ca02c", "#d62728"]},
      "legend": {
        "title": null,
        "orient": "none",
        "legendX": 445,
        "legendY": 825,
        "symbolType": "stroke",
        "symbolSize": 6889,
        "symbolStrokeWidth": 6.25,
        "clipHeight": 42,
        "labelFontSize": 41.7,
        "labelColor": "black",
        "labelOffset": 31,
        "labelLimit": 2000,
        "rowPadding": 21,
        "padding": 13.5,
        "fillColor": "rgba(255,255,255,0.8)",
        "strokeColor": "#d6d6d6",
        "cornerRadius": 8,
        "labelExpr": "datum.label == 'b' ? 'FT-PRoBERTa (best=0.583)' : datum.label == 'o' ? 'ProToFormer (128-SEQ) (best=0.593)' : datum.label == 'g' ? 'ProToFormer (128-SEQ+CM) (best=0.767)' : 'ProToFormer (256-SEQ+CM) (best=0.755)'",
        "encode": {"legend": {"update": {"strokeWidth": {"value": 4}}}}
      }
    }
  }
}
